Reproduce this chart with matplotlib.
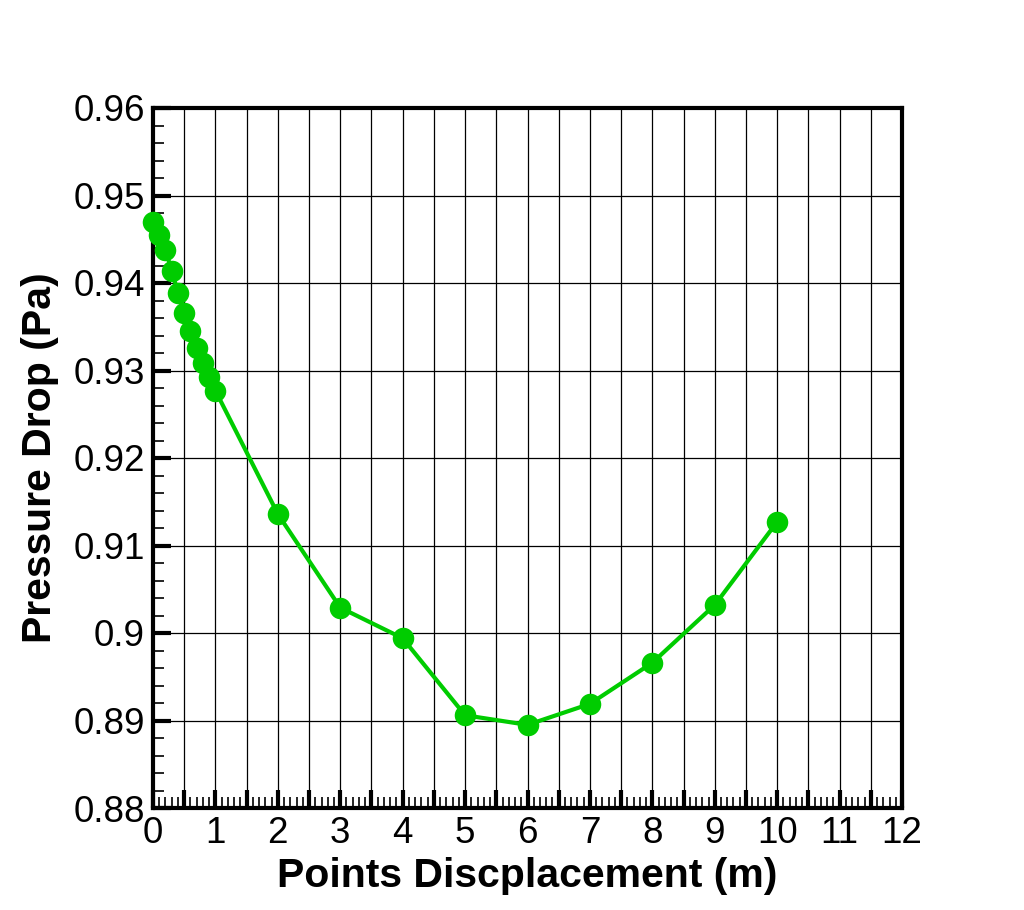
import numpy as np
import matplotlib
matplotlib.use("Agg")
import matplotlib.pyplot as plt
import matplotlib.ticker as ticker

plt.rcParams['font.family'] = ['Liberation Sans', 'DejaVu Sans']

# Data
displacement = [0, 0.1, 0.2, 0.3, 0.4, 0.5, 0.6, 0.7, 0.8, 0.9, 1.0,
                2, 3, 4, 5, 6, 7, 8, 9, 10]
pressure_drop = [0.9470, 0.9455, 0.9438, 0.9414, 0.9389, 0.9366, 0.9345,
                 0.9326, 0.9309, 0.9293, 0.9277,
                 0.9136, 0.9029, 0.8994, 0.8906, 0.8895, 0.8919, 0.8966,
                 0.9032, 0.9127]

green = '#00cc00'

fig = plt.figure(figsize=(10.24, 9.10), dpi=100)
ax = fig.add_axes([153 / 1024, 1 - 808 / 910, (902 - 153) / 1024, (808 - 108) / 910])

ax.plot(displacement, pressure_drop, color=green, lw=3, marker='o',
        markersize=15.5, markeredgewidth=0, zorder=5, clip_on=False)

ax.set_xlim(0, 12)
ax.set_ylim(0.88, 0.96)

# x: grid every 0.5, labels on integers, minor every 0.1
ax.xaxis.set_major_locator(ticker.MultipleLocator(0.5))
ax.xaxis.set_minor_locator(ticker.MultipleLocator(0.1))
ax.xaxis.set_major_formatter(ticker.FuncFormatter(
    lambda v, p: f"{int(round(v))}" if abs(v - round(v)) < 1e-6 else ""))

ax.yaxis.set_major_locator(ticker.MultipleLocator(0.01))
ax.yaxis.set_minor_locator(ticker.MultipleLocator(0.002))
ax.yaxis.set_major_formatter(ticker.FuncFormatter(lambda v, p: f"{v:g}"))

ax.grid(True, which='major', color='black', lw=0.9)
ax.set_axisbelow(True)

ax.tick_params(which='major', direction='in', length=13, width=3,
               labelsize=26.5, pad=6, top=False, right=False)
ax.tick_params(which='minor', direction='in', length=8, width=1.2,
               top=False, right=False)

for s in ax.spines.values():
    s.set_linewidth(3)

ax.set_xlabel('Points Discplacement (m)', fontsize=29.5, fontweight='bold', labelpad=4)
ax.set_ylabel('Pressure Drop (Pa)', fontsize=29.5, fontweight='bold', labelpad=10)

fig.savefig('out.png', dpi=100)
